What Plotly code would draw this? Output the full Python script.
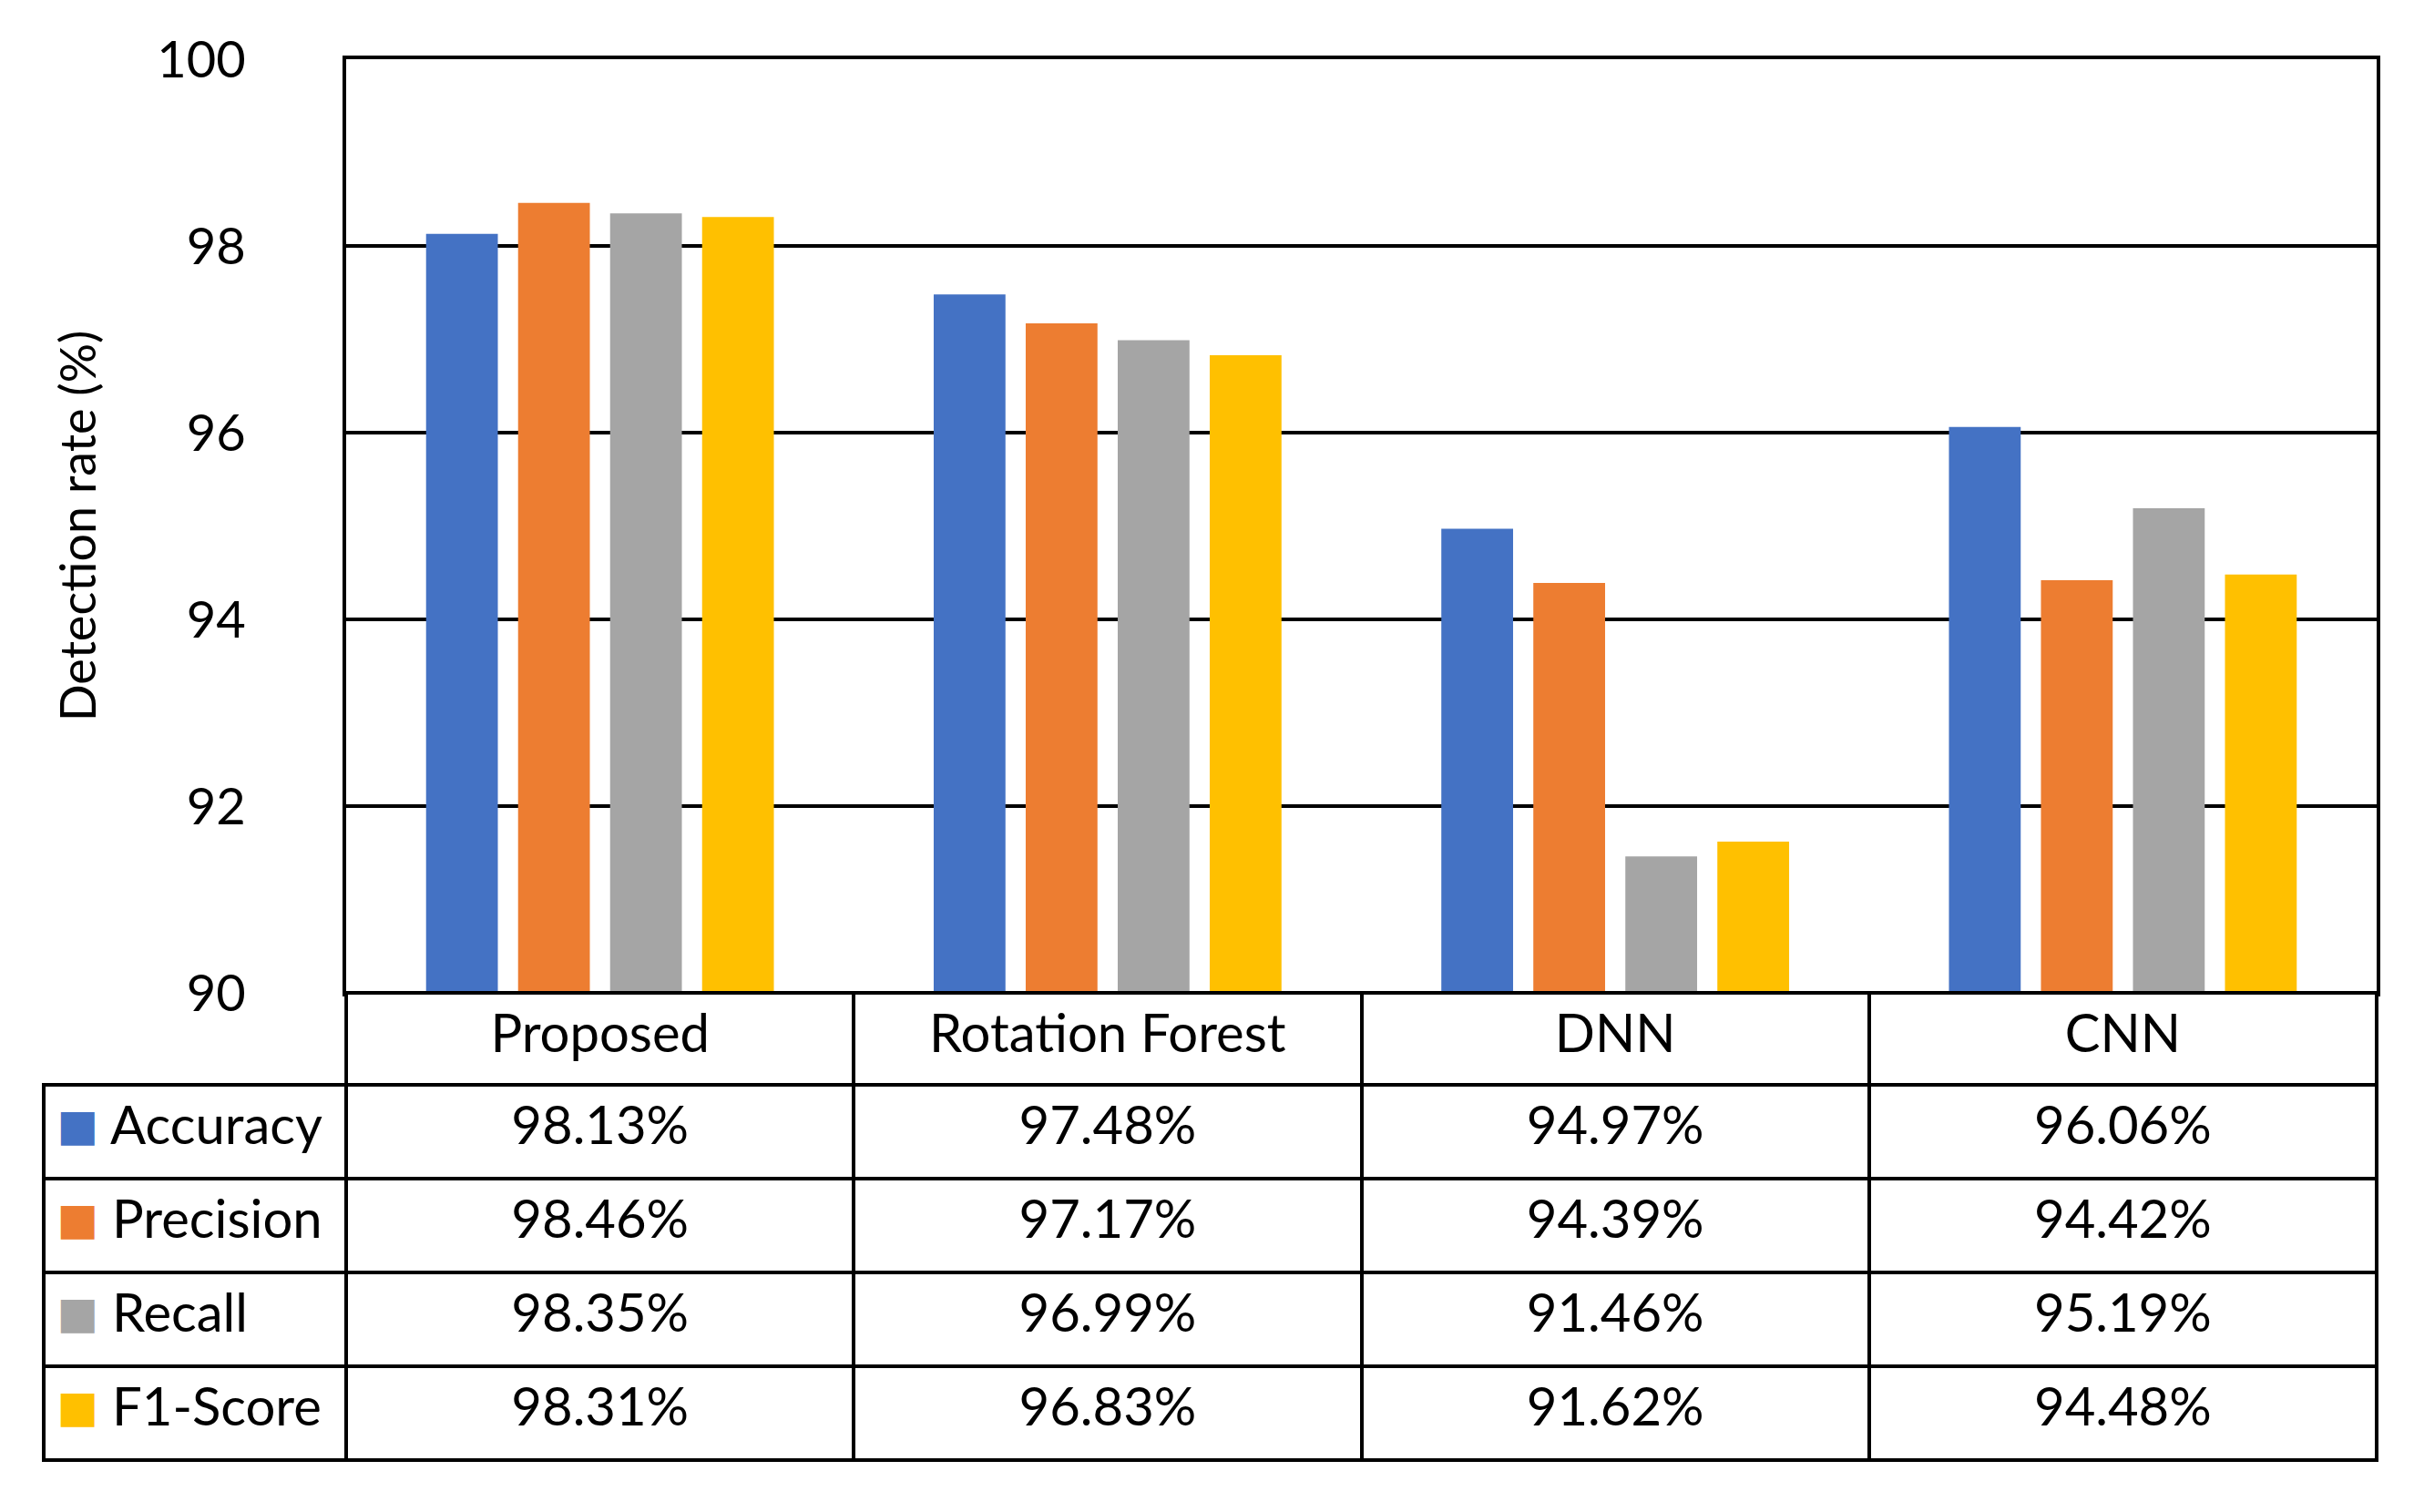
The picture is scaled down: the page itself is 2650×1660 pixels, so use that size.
import plotly.graph_objs as go

models = ["Proposed", "Rotation Forest", "DNN", "CNN"]
metrics = ["Accuracy", "Precision", "Recall", "F1-Score"]
accuracy = [98.13, 97.48, 94.97, 96.06]
precision = [98.46, 97.17, 94.39, 94.42]
recall = [98.35, 96.99, 91.46, 95.19]
f1_score = [98.31, 96.83, 91.62, 94.48]
y_ticks = [90, 92, 94, 96, 98, 100]

colors = ["#4472C4", "#ED7D31", "#A5A5A5", "#FFC000"]
series = [accuracy, precision, recall, f1_score]

W, H = 2650, 1660
OFF = 8  # default body margin of the html page
FONT = "Lato"
NB = "\u00a0"

def px_x(x):
  return (x - OFF) / W

def px_y(y):
  return (H - (y - OFF)) / H

def shifted(txt, shift = 26, extra = ""):
  # push text down a bit so it sits in the middle of the cell
  return "<span style=\"baseline-shift:-%dpx%s\">%s</span>" % (shift, extra, txt)

fig = go.Figure()

for name, vals, col in zip(metrics, series, colors):
  fig.add_trace(go.Bar(x = models, y = vals, name = name, marker_color = col,
                       marker_line_width = 0, showlegend = False))

# data table under the plot (the trailing <br> stops the table from word-wrapping the markup)
square = ";color:%s;font-size:46px;font-family:'Noto Sans CJK JP'"
label_col = [shifted(NB, 26, ";font-size:24px") + shifted("\u25a0", 26, square % c) + shifted(NB + m) + "<br>"
             for c, m in zip(colors, metrics)]
value_cols = [[shifted("%.2f%%" % s[i]) + "<br>" for s in series] for i in range(len(models))]
header_vals = [""] + [shifted(m, 24) + "<br>" for m in models]

clear = "rgba(0,0,0,0)"
fig.add_trace(go.Table(
  domain = dict(x = [px_x(48), px_x(2609)], y = [px_y(1606), px_y(1090)]),
  columnwidth = [332, 557, 557, 557, 557],
  header = dict(values = header_vals, height = 101,
                line = dict(color = [clear, "black", "black", "black", "black"], width = 4),
                fill = dict(color = [clear, "white", "white", "white", "white"]),
                align = "center",
                font = dict(family = FONT, size = 58, color = "black")),
  cells = dict(values = [label_col] + value_cols, height = 103,
               line = dict(color = "black", width = 4),
               fill_color = "white", align = ["left", "center", "center", "center", "center"],
               font = dict(family = FONT, size = 58, color = "black")),
))

fig.update_layout(
  width = W, height = H,
  margin = dict(l = 0, r = 0, t = 0, b = 0),
  paper_bgcolor = "white", plot_bgcolor = "white",
  barmode = "group", bargap = 0.275, bargroupgap = 0.22,
  font = dict(family = FONT, color = "black"),
)
fig.update_xaxes(domain = [px_x(380), px_x(2609)], showticklabels = False, ticks = "",
                 showline = True, linecolor = "black", linewidth = 4, mirror = True,
                 showgrid = False)
fig.update_yaxes(domain = [px_y(1090), px_y(65)], range = [90, 100],
                 tickvals = y_ticks, tickfont = dict(size = 56, family = FONT),
                 ticks = "", ticklabelstandoff = 95,
                 showline = True, linecolor = "black", linewidth = 4, mirror = True,
                 showgrid = True, gridcolor = "black", gridwidth = 3.5,
                 title = dict(text = "Detection rate (%)", font = dict(size = 54, family = FONT),
                              standoff = 50),
                 automargin = False)

fig.write_html("out.html")
